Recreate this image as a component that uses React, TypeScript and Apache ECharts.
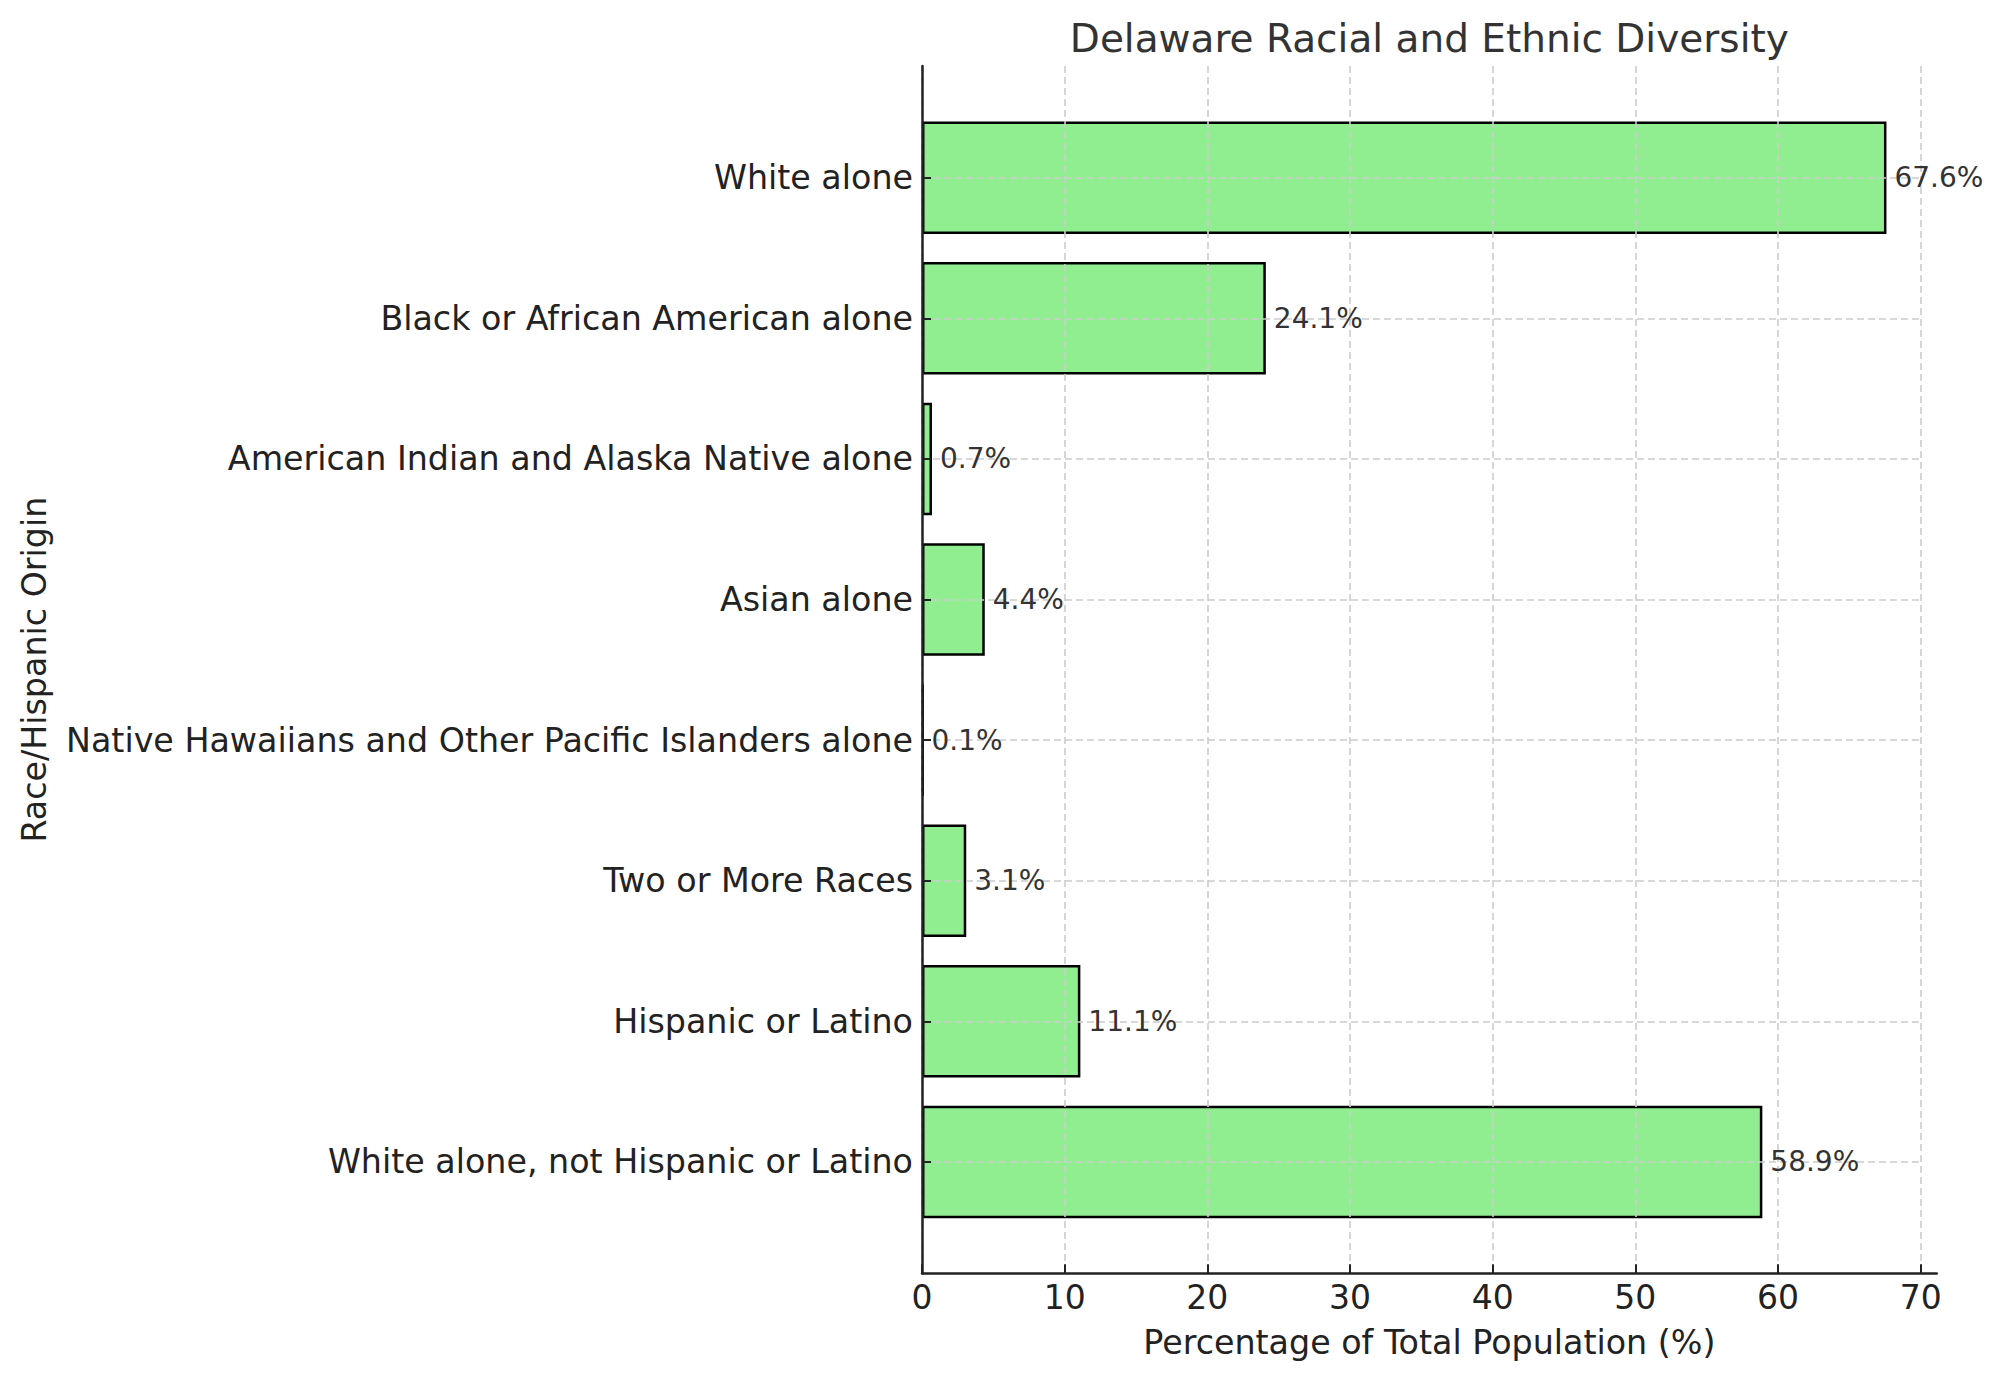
import React, { useEffect, useRef } from "react";
import * as echarts from "echarts";

const categories = [
  "White alone",
  "Black or African American alone",
  "American Indian and Alaska Native alone",
  "Asian alone",
  "Native Hawaiians and Other Pacific Islanders alone",
  "Two or More Races",
  "Hispanic or Latino",
  "White alone, not Hispanic or Latino",
];
const values = [67.6, 24.1, 0.7, 4.4, 0.1, 3.1, 11.1, 58.9];
const xTickMin = 0;
const xTickMax = 70;
const xTickStep = 10;

const TITLE = "Delaware Racial and Ethnic Diversity";
const X_NAME = "Percentage of Total Population (%)";
const Y_NAME = "Race/Hispanic Origin";

const FONT = "DejaVu Sans";
const INK = "#222222";

export default function App() {
  const ref = useRef<HTMLDivElement>(null);
  useEffect(() => {
    if (!ref.current) return;
    const chart = echarts.init(ref.current, undefined, { renderer: "svg" });
    // geometry
    const L = 922;
    const T = 66;
    const B = 1273.3;
    const R70 = 1920.7;
    const AXEND = 1936.7;
    const band = 140.6;
    const firstC = 177.7;
    const lastC = firstC + band * (categories.length - 1);

    const grid = [
      { left: L, top: T, width: AXEND - L, height: B - T, containLabel: false },
      { left: L, top: T, width: R70 - L, height: B - T, containLabel: false },
      { left: L, top: firstC, width: R70 - L, height: lastC - firstC, containLabel: false },
    ];

    const dashed = { color: "#cccccc", width: 1.6, type: [7, 4] as any };

    const option: any = {
      animation: false,
      backgroundColor: "#ffffff",
      textStyle: { fontFamily: FONT },
      title: {
        text: TITLE,
        left: (L + AXEND) / 2,
        textAlign: "center",
        top: 19,
        padding: 0,
        textStyle: { fontFamily: FONT, fontSize: 39, fontWeight: "normal", color: "#333333" },
      },
      grid,
      xAxis: [
        {
          gridIndex: 0,
          type: "value",
          min: 0,
          max: 1,
          z: 6,
          axisLine: { show: true, onZero: false, lineStyle: { color: INK, width: 2.5 } },
          axisTick: { show: false },
          axisLabel: { show: false },
          splitLine: { show: false },
          name: X_NAME,
          nameLocation: "middle",
          nameGap: 53,
          nameTextStyle: { fontFamily: FONT, fontSize: 33.3, color: INK },
        },
        {
          gridIndex: 1,
          type: "value",
          min: xTickMin,
          max: xTickMax,
          interval: xTickStep,
          z: 4,
          axisLine: { show: false },
          axisTick: { show: true, inside: true, length: 9, lineStyle: { color: INK, width: 2 } },
          axisLabel: { show: true, margin: 8, fontFamily: FONT, fontSize: 33, color: INK },
          splitLine: { show: true, lineStyle: dashed },
        },
        {
          gridIndex: 2,
          type: "value",
          min: xTickMin,
          max: xTickMax,
          show: false,
        },
      ],
      yAxis: [
        {
          gridIndex: 0,
          type: "value",
          min: 0,
          max: 1,
          z: 6,
          axisLine: { show: true, onZero: false, lineStyle: { color: INK, width: 2.5 } },
          axisTick: { show: false },
          axisLabel: { show: false },
          splitLine: { show: false },
          name: Y_NAME,
          nameLocation: "middle",
          nameRotate: 90,
          nameGap: 871,
          nameTextStyle: { fontFamily: FONT, fontSize: 33.3, color: INK },
        },
        {
          gridIndex: 1,
          type: "value",
          show: false,
        },
        {
          gridIndex: 2,
          type: "category",
          data: categories,
          inverse: true,
          boundaryGap: false,
          z: 4,
          axisLine: { show: false },
          axisTick: { show: true, inside: true, length: 9, lineStyle: { color: INK, width: 2 } },
          axisLabel: { show: true, margin: 9, fontFamily: FONT, fontSize: 33.3, color: INK },
          splitLine: { show: true, lineStyle: dashed },
        },
      ],
      series: [
        {
          type: "bar",
          xAxisIndex: 2,
          yAxisIndex: 2,
          data: values,
          barWidth: band * 0.8,
          clip: false,
          z: 2,
          itemStyle: { color: "#90EE90", borderColor: "#000000", borderWidth: 2.5 },
          label: { show: false },
        },
        {
          type: "bar",
          xAxisIndex: 2,
          yAxisIndex: 2,
          data: values,
          barWidth: band * 0.8,
          barGap: "-100%",
          clip: false,
          z: 8,
          silent: true,
          itemStyle: { color: "rgba(0,0,0,0)", borderWidth: 0 },
          label: {
            show: true,
            position: "right",
            distance: 8,
            formatter: (p: any) => p.value + "%",
            fontFamily: FONT,
            fontSize: 28,
            color: "#333333",
          },
        },
      ],
    };
    chart.setOption(option);
    return () => chart.dispose();
  }, []);
  return (
    <div
      ref={ref}
      style={{ position: "absolute", left: 0, top: 0, width: 2001, height: 1380 }}
    />
  );
}
